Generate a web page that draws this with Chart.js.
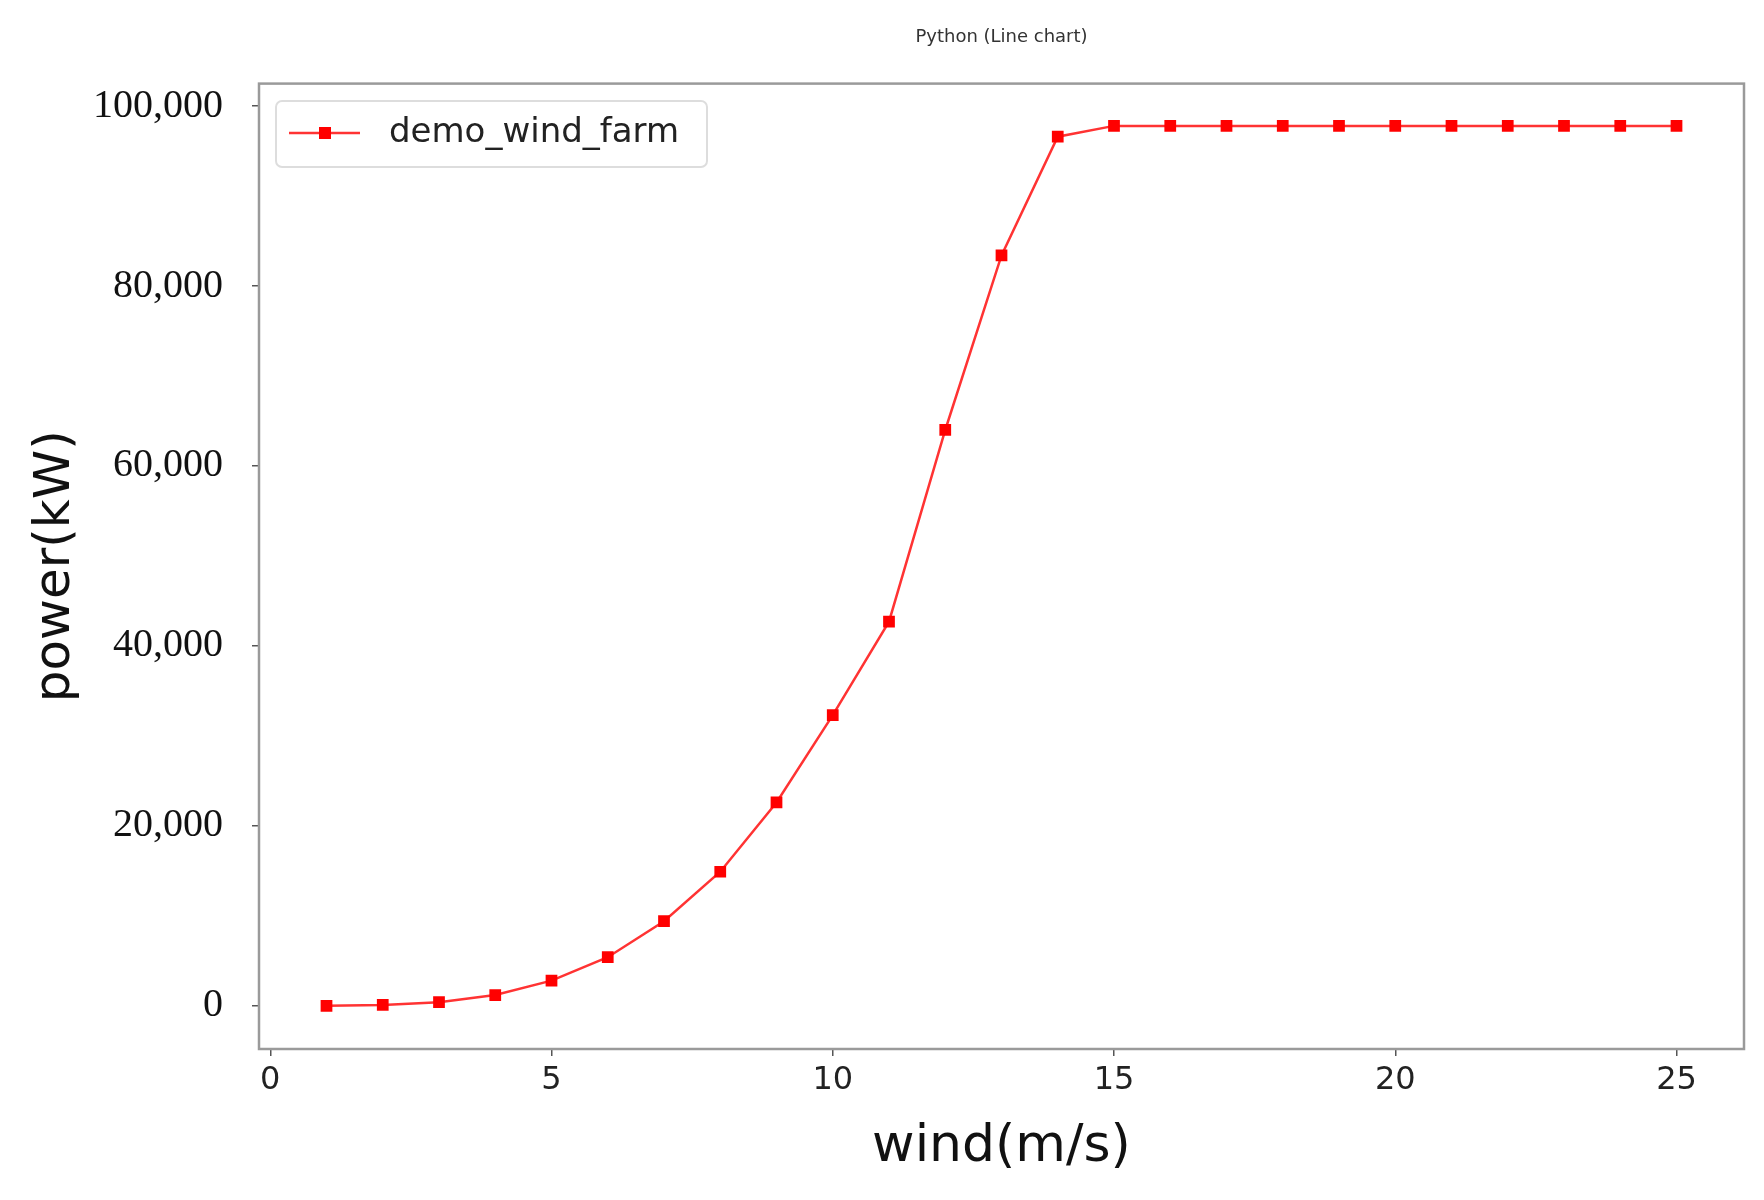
<!DOCTYPE html>
<html lang="en">
<head>
  <meta charset="UTF-8" />
  <title>Python (Line chart)</title>
  <script src="https://cdn.jsdelivr.net/npm/chart.js"></script>
  <style>
    body {
      margin: 0;
      background: #fff;
    }
    #wrap {
      width: 1764px;
      height: 1200px;
    }
  </style>
</head>
<body>
  <div id="wrap">
    <canvas id="chart" width="1764" height="1200"></canvas>
  </div>

  <script>
    // wind speed (m/s) and farm output (kW)
    const windSpeeds = [1, 2, 3, 4, 5, 6, 7, 8, 9, 10, 11, 12, 13, 14, 15, 16, 17, 18, 19, 20, 21, 22, 23, 24, 25];
    const powerKW = [0, 100, 400, 1200, 2800, 5400, 9400, 14900, 22600, 32300, 42700, 64000, 83400, 96600,
      97800, 97800, 97800, 97800, 97800, 97800, 97800, 97800, 97800, 97800, 97800];
    const seriesName = 'demo_wind_farm';

    const xTicks = [0, 5, 10, 15, 20, 25];
    const yTicks = [0, 20000, 40000, 60000, 80000, 100000];
    const xRange = [-0.2, 26.2];
    const yRange = [-4800, 102500];

    const red = '#ff0000';

    // matplotlib style frame round the plot area
    const frame = {
      id: 'frame',
      afterDraw(chart) {
        const { ctx, chartArea: a } = chart;
        ctx.save();
        ctx.strokeStyle = '#9a9a9a';
        ctx.lineWidth = 2.5;
        ctx.strokeRect(a.left, a.top, a.right - a.left, a.bottom - a.top);
        ctx.restore();
      }
    };

    // legend box in the upper left corner, line + square marker
    const insideLegend = {
      id: 'insideLegend',
      afterDraw(chart) {
        const { ctx } = chart;
        const ds = chart.data.datasets[0];
        const x = 276, y = 101, w = 431, h = 66, r = 6;
        ctx.save();
        ctx.beginPath();
        ctx.moveTo(x + r, y);
        ctx.arcTo(x + w, y, x + w, y + h, r);
        ctx.arcTo(x + w, y + h, x, y + h, r);
        ctx.arcTo(x, y + h, x, y, r);
        ctx.arcTo(x, y, x + w, y, r);
        ctx.closePath();
        ctx.fillStyle = 'rgba(255,255,255,0.85)';
        ctx.fill();
        ctx.strokeStyle = '#dddddd';
        ctx.lineWidth = 2;
        ctx.stroke();

        const cy = y + h / 2 - 1;
        ctx.strokeStyle = ds.borderColor;
        ctx.lineWidth = ds.borderWidth;
        ctx.beginPath();
        ctx.moveTo(289, cy);
        ctx.lineTo(360, cy);
        ctx.stroke();
        ctx.fillStyle = ds.pointBackgroundColor;
        ctx.fillRect(325 - 6, cy - 6, 12, 12);

        ctx.fillStyle = '#222';
        ctx.font = '34px "DejaVu Sans"';
        ctx.textBaseline = 'middle';
        ctx.textAlign = 'left';
        ctx.fillText(ds.label, 389, cy);
        ctx.restore();
      }
    };

    new Chart(document.getElementById('chart'), {
      type: 'line',
      data: {
        datasets: [{
          label: seriesName,
          data: windSpeeds.map((w, i) => ({ x: w, y: powerKW[i] })),
          borderColor: 'rgba(255,0,0,0.8)',
          borderWidth: 2.5,
          pointStyle: 'rect',
          pointRadius: 8.3,
          pointBackgroundColor: red,
          pointBorderWidth: 0,
          tension: 0
        }]
      },
      options: {
        responsive: false,
        animation: false,
        layout: { padding: { left: 0, right: 20, top: 0, bottom: 0 } },
        plugins: {
          legend: { display: false },
          tooltip: { enabled: false },
          title: {
            display: true,
            text: 'Python (Line chart)',
            fullSize: false,
            color: '#333',
            font: { family: 'DejaVu Sans', size: 18, weight: 'normal', lineHeight: 1.2 },
            padding: { top: 27, bottom: 35 }
          }
        },
        scales: {
          x: {
            type: 'linear',
            min: xRange[0],
            max: xRange[1],
            afterBuildTicks: s => { s.ticks = xTicks.map(v => ({ value: v })); },
            afterFit: s => { s.height = 151; },
            border: { display: false },
            grid: { drawOnChartArea: false, drawTicks: true, tickLength: 7, color: '#555', lineWidth: 1.5 },
            ticks: {
              color: '#222',
              padding: 5,
              maxRotation: 0,
              font: { family: 'DejaVu Sans', size: 32 }
            },
            title: {
              display: true,
              text: 'wind(m/s)',
              color: '#111',
              font: { family: 'DejaVu Sans', size: 52, lineHeight: 1.2 },
              padding: { top: 0, bottom: 21 }
            }
          },
          y: {
            type: 'linear',
            min: yRange[0],
            max: yRange[1],
            afterBuildTicks: s => { s.ticks = yTicks.map(v => ({ value: v })); },
            afterFit: s => { s.width = 259; },
            border: { display: false },
            grid: { drawOnChartArea: false, drawTicks: true, tickLength: 7, color: '#555', lineWidth: 1.5 },
            ticks: {
              color: '#111',
              padding: 29,
              font: { family: 'Liberation Serif', size: 40 },
              callback: v => v.toLocaleString('en-US')
            },
            title: {
              display: true,
              text: 'power(kW)',
              color: '#111',
              font: { family: 'DejaVu Sans', size: 50, lineHeight: 1.2 },
              padding: { top: 26, bottom: 0 }
            }
          }
        }
      },
      plugins: [frame, insideLegend]
    });
  </script>
</body>
</html>
